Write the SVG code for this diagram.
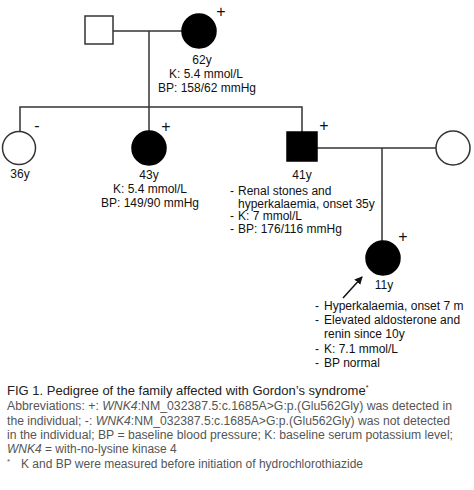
<svg xmlns="http://www.w3.org/2000/svg" width="474" height="490" viewBox="0 0 474 490">
<style>
.ln{stroke:#333;stroke-width:1.5;fill:none}
.m{fill:#fff;stroke:#333;stroke-width:1.5}
.a{fill:#000;stroke:#000;stroke-width:1.5}
text{font-family:"Liberation Sans",Arial,sans-serif;font-size:12px;fill:#111}
.c{text-anchor:middle}
.s{font-size:16px}
.cap{font-size:13px;fill:#222}
.ab{font-size:12px;fill:#555}
</style>
<defs>
<marker id="ah" markerWidth="8" markerHeight="8" refX="7" refY="4" orient="auto" markerUnits="userSpaceOnUse">
<path d="M0,0 L8,4 L0,8 Z" fill="#111"/>
</marker>
</defs>
<rect width="474" height="490" fill="#fff"/>
<g id="connectors">
<line class="ln" x1="113" y1="31" x2="182" y2="31"/>
<line class="ln" x1="149" y1="31" x2="149" y2="107"/>
<polyline class="ln" points="20,131 20,107 302,107 302,132"/>
<line class="ln" x1="149" y1="107" x2="149" y2="131"/>
<line class="ln" x1="317" y1="148" x2="436" y2="148"/>
<line class="ln" x1="382" y1="148" x2="382" y2="241"/>
<line stroke="#111" stroke-width="1.5" x1="343" y1="298" x2="362" y2="277" marker-end="url(#ah)"/>
</g>
<g id="grandfather">
<rect class="m" x="85" y="16" width="28" height="28"/>
</g>
<g id="grandmother">
<circle class="a" cx="199" cy="31" r="17"/>
<text class="s" x="221" y="17" text-anchor="middle">+</text>
<text class="c" x="202" y="64">62y</text>
<text class="c" x="206" y="78">K: 5.4 mmol/L</text>
<text class="c" x="207" y="92">BP: 158/62 mmHg</text>
</g>
<g id="daughter36">
<circle class="m" cx="19" cy="148" r="16.5"/>
<text class="s" x="37" y="131" text-anchor="middle">-</text>
<text class="c" x="20" y="178">36y</text>
</g>
<g id="daughter43">
<circle class="a" cx="149" cy="148" r="17"/>
<text class="s" x="166" y="132" text-anchor="middle">+</text>
<text class="c" x="149" y="179">43y</text>
<text class="c" x="150" y="193">K: 5.4 mmol/L</text>
<text class="c" x="150" y="207">BP: 149/90 mmHg</text>
</g>
<g id="son41">
<rect class="a" x="287" y="132" width="30" height="29"/>
<text class="s" x="324" y="131" text-anchor="middle">+</text>
<text class="c" x="302" y="179">41y</text>
<text x="230" y="195">-</text><text x="238" y="195">Renal stones and</text>
<text x="238" y="207.5">hyperkalaemia, onset 35y</text>
<text x="230" y="220">-</text><text x="238" y="220">K: 7 mmol/L</text>
<text x="230" y="232.5">-</text><text x="238" y="232.5">BP: 176/116 mmHg</text>
</g>
<g id="spouse">
<circle class="m" cx="453" cy="148" r="17"/>
</g>
<g id="proband">
<circle class="a" cx="383" cy="258" r="17"/>
<text class="s" x="403" y="242" text-anchor="middle">+</text>
<text class="c" x="384" y="289">11y</text>
<text x="315" y="310">-</text><text x="324" y="310">Hyperkalaemia, onset 7 m</text>
<text x="315" y="324">-</text><text x="324" y="324">Elevated aldosterone and</text>
<text x="324" y="338">renin since 10y</text>
<text x="315" y="353">-</text><text x="324" y="353">K: 7.1 mmol/L</text>
<text x="315" y="367">-</text><text x="324" y="367">BP normal</text>
</g>
<g id="caption">
<text class="cap" x="7" y="395">FIG 1.  Pedigree of the family affected with Gordon’s syndrome<tspan font-size="7" dy="-5">*</tspan></text>
<text class="ab" x="7" y="410" textLength="445" lengthAdjust="spacingAndGlyphs">Abbreviations: +: <tspan font-style="italic">WNK4</tspan>:NM_032387.5:c.1685A&gt;G:p.(Glu562Gly) was detected in</text>
<text class="ab" x="7" y="425" textLength="443" lengthAdjust="spacingAndGlyphs">the individual; -: <tspan font-style="italic">WNK4</tspan>:NM_032387.5:c.1685A&gt;G:p.(Glu562Gly) was not detected</text>
<text class="ab" x="7" y="439" textLength="446" lengthAdjust="spacingAndGlyphs">in the individual; BP = baseline blood pressure; K: baseline serum potassium level;</text>
<text class="ab" x="7" y="453"><tspan font-style="italic">WNK4</tspan> = with-no-lysine kinase 4</text>
<text class="ab" x="7" y="468"><tspan font-size="8" dy="-4">*</tspan><tspan dy="4" x="21">K and BP were measured before initiation of hydrochlorothiazide</tspan></text>
</g>
</svg>
